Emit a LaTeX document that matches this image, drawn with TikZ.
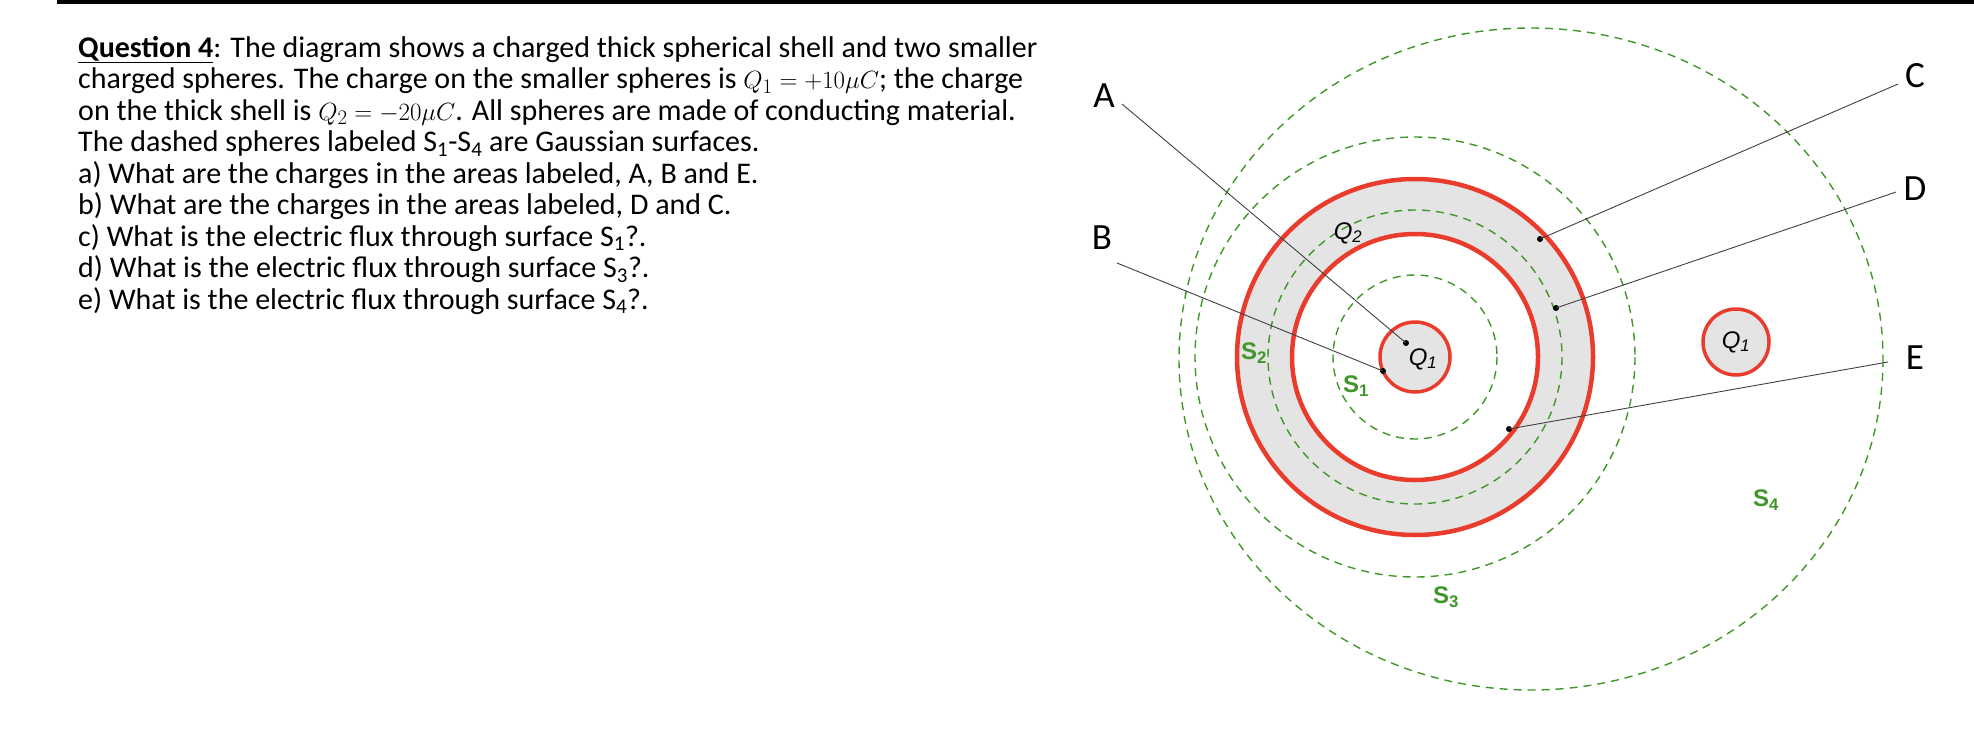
\documentclass[tikz,border=0pt]{standalone}
\usepackage{fontspec}
\setmainfont{Carlito}
\newfontfamily\arialf{Liberation Sans}
\usetikzlibrary{calc}
\definecolor{gr}{RGB}{64,150,40}
\definecolor{rd}{RGB}{234,60,45}
\definecolor{shell}{RGB}{228,228,228}
\tikzset{
  gauss/.style={gr,line width=1.4pt,dash pattern=on 8pt off 6pt},
  redc/.style={rd,line width=4.5pt},
  lead/.style={black!75,line width=0.9pt},
  dotp/.style={circle,fill=black,inner sep=0pt,minimum size=6pt},
  qline/.style={anchor=base west,font=\fontsize{30}{34}\selectfont,inner sep=0pt},
  lab/.style={font=\fontsize{37}{40}\selectfont,inner sep=0pt},
  slab/.style={gr,font=\arialf\bfseries\fontsize{24}{28}\selectfont,inner sep=0pt},
  qlab/.style={font=\arialf\itshape\fontsize{24}{28}\selectfont,inner sep=0pt}
}
\begin{document}
\begin{tikzpicture}[x=1pt,y=-1pt]
\useasboundingbox (0,0) rectangle (1974,742);
\fill[black] (57,0) rectangle (1974,3.5);
% text
\node[qline] (t1) at (78,57) {\underline{\textbf{Question 4}}: The diagram shows a charged thick spherical shell and two smaller};
\node[qline] (t2) at (78,88.5) {charged spheres. The charge on the smaller spheres is $Q_1=+10\mu C$; the charge};
\node[qline] (t3) at (78,120) {on the thick shell is $Q_2=-20\mu C$. All spheres are made of conducting material.};
\node[qline] (t4) at (78,151.5) {The dashed spheres labeled S\textsubscript{1}-S\textsubscript{4} are Gaussian surfaces.};
\node[qline] (t5) at (78,183) {a) What are the charges in the areas labeled, A, B and E.};
\node[qline] (t6) at (78,214.5) {b) What are the charges in the areas labeled, D and C.};
\node[qline] (t7) at (78,246) {c) What is the electric flux through surface S\textsubscript{1}?.};
\node[qline] (t8) at (78,277.5) {d) What is the electric flux through surface S\textsubscript{3}?.};
\node[qline] (t9) at (78,309) {e) What is the electric flux through surface S\textsubscript{4}?.};
% diagram
\coordinate (O) at (1415,357);
\fill[shell,even odd rule] (O) circle (178) (O) circle (123);
\draw[redc] (O) circle (178);
\draw[redc] (O) circle (123);
\fill[shell] (O) circle (35);
\draw[rd,line width=3.5pt] (O) circle (35);
\coordinate (P) at (1736,342);
\fill[shell] (P) circle (33);
\draw[rd,line width=3.5pt] (P) circle (33);
\draw[gauss] (O) circle (82);
\draw[gauss] (O) circle (147);
\draw[gauss] (O) circle (220);
\draw[gauss] (1531,359) ellipse [x radius=352,y radius=331];
% labels
\node[qlab] (q1) at (1423,359) {Q\textsubscript{1}};
\node[qlab] (q1b) at (P) {Q\textsubscript{1}};
\node[qlab] (q2) at (1348,233) {Q\textsubscript{2}};
\node[slab] (s1) at (1356,386) {S\textsubscript{1}};
\node[slab] (s2) at (1254,353) {S\textsubscript{2}};
\node[slab] (s3) at (1446,597) {S\textsubscript{3}};
\node[slab] (s4) at (1766,500) {S\textsubscript{4}};
\node[lab] (A) at (1104,96) {A};
\node[lab] (B) at (1102,238) {B};
\node[lab] (C) at (1915,76) {C};
\node[lab] (D) at (1915,189) {D};
\node[lab] (E) at (1915,358) {E};
\node[dotp] (a) at (1406,343) {};
\node[dotp] (b) at (1383,371) {};
\node[dotp] (c) at (1540,239) {};
\node[dotp] (d) at (1556,308) {};
\node[dotp] (e) at (1509,429) {};
\coordinate (ae) at (1122,104);
\coordinate (be) at (1117,263);
\coordinate (ce) at (1898,84);
\coordinate (de) at (1896,192);
\coordinate (ee) at (1888,362);
\draw[lead] (ae) -- (a.center);
\draw[lead] (be) -- (b.center);
\draw[lead] (ce) -- (c.center);
\draw[lead] (de) -- (d.center);
\draw[lead] (ee) -- (e.center);
\end{tikzpicture}
\end{document}
